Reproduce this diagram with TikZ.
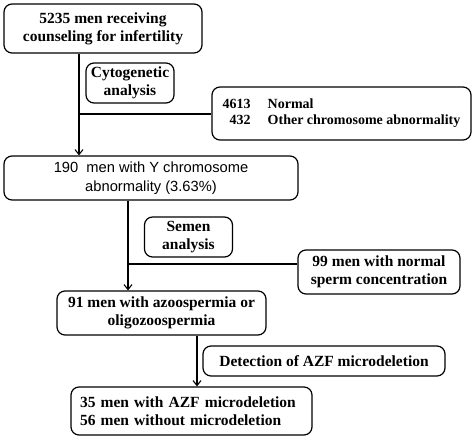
\documentclass[tikz,border=0pt]{standalone}
\usepackage{fontspec}
\setmainfont{Liberation Serif}
\newfontfamily\arialf{Liberation Sans}
\usetikzlibrary{arrows.meta}
\begin{document}
\begin{tikzpicture}[x=1pt,y=-1pt,
  box/.style={draw=black, line width=1.2pt, rounded corners=8pt, inner sep=0pt, align=center,
    font=\fontsize{15.5}{18}\selectfont\bfseries},
  conn/.style={line width=1.2pt},
  arr/.style={conn, -{Straight Barb[length=5pt,width=8pt,line width=1.1pt]}}]
\useasboundingbox[fill=white] (0,0) rectangle (474,438);
\node[box, minimum width=198pt, minimum height=49pt] (b1) at (103,28.5) {5235 men receiving\\counseling for infertility};
\node[box, minimum width=88pt, minimum height=40pt] (cyto) at (130,83) {Cytogenetic\\analysis};
\node[box, minimum width=259pt, minimum height=53pt, font=\fontsize{14}{16}\selectfont\bfseries] (nb) at (341.5,113.5)
  {\begin{tabular}{@{}r@{\hspace{17pt}}l@{}}4613 & Normal\\ 432 & Other chromosome abnormality\end{tabular}};
\node[box, minimum width=294pt, minimum height=44pt, font=\fontsize{14.7}{18.5}\selectfont\arialf] (b2) at (151,178) {190\ \ men with Y chromosome\\abnormality (3.63\%)};
\node[box, minimum width=88pt, minimum height=40pt] (semen) at (188.5,237) {Semen\\analysis};
\node[box, minimum width=162pt, minimum height=44pt] (nb2) at (379,272) {99 men with normal\\sperm concentration};
\node[box, minimum width=209pt, minimum height=44pt, font=\fontsize{15.5}{18.5}\selectfont\bfseries] (b3) at (161.5,313) {91 men with azoospermia or\\oligozoospermia};
\node[box, minimum width=242pt, minimum height=30pt] (det) at (324,361) {Detection of AZF microdeletion};
\node[box, minimum height=48pt, text width=223pt, inner xsep=9pt, align=left] (b4) at (191.5,411) {35 men with AZF microdeletion\\56 men without microdeletion};
\coordinate (j1) at (79,114);
\coordinate (j2) at (128,264);
\coordinate (j3) at (197,360);
\draw[arr] (j1 |- b1.south) -- (j1 |- b2.north);
\draw[conn] (j1) -- (j1 -| nb.west);
\draw[arr] (j2 |- b2.south) -- (j2 |- b3.north);
\draw[conn] (j2) -- (j2 -| nb2.west);
\draw[arr] (j3 |- b3.south) -- (j3 |- b4.north);
\end{tikzpicture}
\end{document}
